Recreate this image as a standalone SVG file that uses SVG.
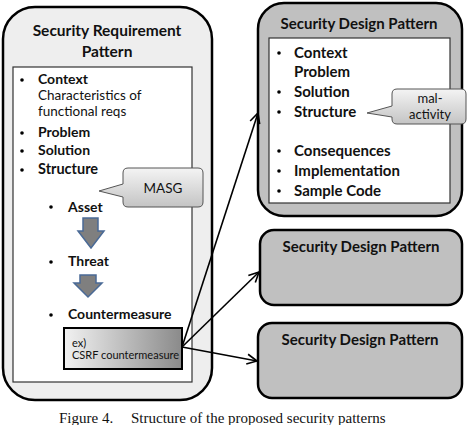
<svg xmlns="http://www.w3.org/2000/svg" width="474" height="425" viewBox="0 0 474 425">
<defs>
<linearGradient id="callG" x1="0" y1="0" x2="0" y2="1">
<stop offset="0" stop-color="#f4f4f4"/><stop offset="1" stop-color="#c4c4c4"/>
</linearGradient>
<linearGradient id="exG" x1="0" y1="0" x2="1" y2="0">
<stop offset="0" stop-color="#f2f2f2"/><stop offset="1" stop-color="#8a8a8a"/>
</linearGradient>
<marker id="arr" viewBox="0 0 12 12" refX="11" refY="6" markerWidth="12" markerHeight="12" markerUnits="userSpaceOnUse" orient="auto">
<path d="M1,1 L11,6 L1,11" fill="none" stroke="#000" stroke-width="1.6"/>
</marker>
<style>
text{font-family:Lato,"Liberation Sans",sans-serif;fill:#111}
.t{font-weight:bold;font-size:15.5px;text-anchor:middle}
.td{font-weight:bold;font-size:15px;text-anchor:middle}
.b{font-weight:bold;font-size:14px}
.bd{font-weight:bold;font-size:15px}
.r{font-size:13.5px}
.s{font-size:11px}
.outer{stroke:#000;stroke-width:2.5}
.inner{fill:#fff;stroke:#333;stroke-width:1.2}
.call{fill:url(#callG);stroke:#555;stroke-width:1}
.blk{fill:#7f7f7f;stroke:#4a6a96;stroke-width:1.5}
.con{fill:none;stroke:#000;stroke-width:1.6;marker-end:url(#arr)}
</style>
</defs>

<g id="req-pattern">
<rect class="outer" x="3" y="7" width="209" height="393" rx="32" fill="#eeeeee"/>
<text class="t" x="107" y="36">Security Requirement</text>
<text class="t" x="107" y="57">Pattern</text>
<rect class="inner" x="13" y="67" width="179" height="315"/>
<g>
<circle cx="22" cy="80" r="1.8" fill="#000"/>
<text class="b" x="38" y="84">Context</text>
<text class="r" x="38" y="100">Characteristics of</text>
<text class="r" x="38" y="116">functional reqs</text>
<circle cx="22" cy="133" r="1.8" fill="#000"/>
<text class="b" x="38" y="137">Problem</text>
<circle cx="22" cy="151" r="1.8" fill="#000"/>
<text class="b" x="38" y="155">Solution</text>
<circle cx="22" cy="170" r="1.8" fill="#000"/>
<text class="b" x="38" y="174" style="font-size:14.5px">Structure</text>
<circle cx="51" cy="207" r="1.8" fill="#000"/>
<text class="b" x="68" y="212">Asset</text>
<circle cx="51" cy="262" r="1.8" fill="#000"/>
<text class="b" x="68" y="266">Threat</text>
<circle cx="51" cy="315" r="1.8" fill="#000"/>
<text class="b" x="68" y="319">Countermeasure</text>
</g>
<path class="blk" d="M83,218 H98 V231 H104 L91,248 L78,231 H83 Z"/>
<path class="blk" d="M80,275 H96 V283 H102 L88,297 L74,283 H80 Z"/>
</g>

<g id="masg">
<path class="call" d="M128,168 H198 Q203,168 203,173 V202 Q203,207 198,207 H128 Q123,207 123,202 V197 L99,191 L123,184 V173 Q123,168 128,168 Z"/>
<text x="163" y="193" style="font-size:13.5px;text-anchor:middle">MASG</text>
</g>

<g id="ex-box">
<rect x="64" y="328" width="118" height="41" fill="url(#exG)" stroke="#000" stroke-width="2"/>
<text class="s" x="72" y="347">ex)</text>
<text class="s" x="72" y="359">CSRF countermeasure</text>
</g>

<g id="design-pattern-1">
<rect class="outer" x="258" y="3" width="204" height="213" rx="26" fill="#c0c0c0"/>
<text class="td" x="359" y="29">Security Design Pattern</text>
<rect class="inner" x="269" y="38" width="181" height="165"/>
<circle cx="279" cy="53" r="1.8" fill="#000"/>
<text class="bd" x="294" y="58">Context</text>
<text class="bd" x="294" y="77">Problem</text>
<circle cx="279" cy="92" r="1.8" fill="#000"/>
<text class="bd" x="294" y="97">Solution</text>
<circle cx="279" cy="112" r="1.8" fill="#000"/>
<text class="bd" x="294" y="117">Structure</text>
<circle cx="279" cy="151" r="1.8" fill="#000"/>
<text class="bd" x="294" y="156">Consequences</text>
<circle cx="279" cy="171" r="1.8" fill="#000"/>
<text class="bd" x="294" y="176">Implementation</text>
<circle cx="279" cy="191" r="1.8" fill="#000"/>
<text class="bd" x="294" y="196">Sample Code</text>
</g>

<g id="mal-activity">
<path class="call" d="M397,89 H461 Q466,89 466,94 V119 Q466,124 461,124 H397 Q392,124 392,119 V117 L367,113 L392,106 V94 Q392,89 397,89 Z"/>
<text x="430" y="103" style="font-size:13px;text-anchor:middle">mal-</text>
<text x="430" y="119" style="font-size:13px;text-anchor:middle">activity</text>
</g>

<g id="design-pattern-2">
<rect class="outer" x="260" y="230" width="202" height="75" rx="14" fill="#c0c0c0"/>
<text class="td" x="361" y="252">Security Design Pattern</text>
</g>

<g id="design-pattern-3">
<rect class="outer" x="258" y="323" width="204" height="75" rx="14" fill="#c0c0c0"/>
<text class="td" x="360" y="345">Security Design Pattern</text>
</g>

<g id="connectors">
<line class="con" x1="182" y1="347" x2="258" y2="113"/>
<line class="con" x1="182" y1="347" x2="259" y2="272"/>
<line class="con" x1="182" y1="347" x2="257" y2="361"/>
</g>

<text y="423" style="font-family:'Liberation Serif',serif;font-size:15px"><tspan x="59">Figure 4.</tspan><tspan x="131">Structure of the proposed security patterns</tspan></text>
</svg>
